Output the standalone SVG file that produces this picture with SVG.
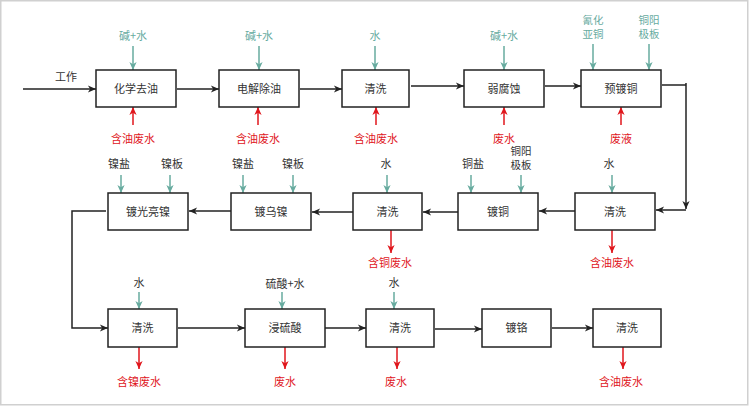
<svg xmlns="http://www.w3.org/2000/svg" width="750" height="406" viewBox="0 0 750 406">
<defs>
<marker id="ak" viewBox="0 0 10 10" refX="9.5" refY="5" markerWidth="9" markerHeight="9" markerUnits="userSpaceOnUse" orient="auto"><path d="M0.5,1 L9.5,5 L0.5,9 L3,5 z" fill="#222"/></marker>
<marker id="at" viewBox="0 0 10 10" refX="9.5" refY="5" markerWidth="9" markerHeight="9" markerUnits="userSpaceOnUse" orient="auto"><path d="M0.5,1 L9.5,5 L0.5,9 L3,5 z" fill="#67AB9F"/></marker>
<marker id="ar" viewBox="0 0 10 10" refX="9.5" refY="5" markerWidth="9" markerHeight="9" markerUnits="userSpaceOnUse" orient="auto"><path d="M0.5,1 L9.5,5 L0.5,9 L3,5 z" fill="#E0161C"/></marker>
</defs>
<style>
text{font-family:"Noto Sans CJK SC","Liberation Sans",sans-serif;font-size:11px;text-anchor:middle}
.two{font-size:10.5px}
.box{fill:#fff;stroke:#222;stroke-width:1.5}
.bl{fill:#333}
.tl{fill:#67AB9F}
.dl{fill:#333}
.rl{fill:#E0161C}
.ck{fill:none;stroke:#222;stroke-width:1.5;marker-end:url(#ak)}
.cn{fill:none;stroke:#222;stroke-width:1.5}
.ct{fill:none;stroke:#67AB9F;stroke-width:1.5;marker-end:url(#at)}
.cr{fill:none;stroke:#E0161C;stroke-width:1.5;marker-end:url(#ar)}
</style>
<rect x="0.75" y="0.75" width="747" height="404" fill="#fff" stroke="#d0d0d0" stroke-width="1.5"/>

<g id="connectors">
<line class="ck" x1="23" y1="89" x2="96" y2="89"/>
<line class="ck" x1="177" y1="89" x2="219" y2="89"/>
<line class="ck" x1="300" y1="89" x2="342" y2="89"/>
<line class="ck" x1="411" y1="86" x2="464" y2="86"/>
<line class="ck" x1="545" y1="86" x2="581" y2="86"/>
<line class="cn" x1="662" y1="85" x2="686" y2="85"/>
<line class="ck" x1="686" y1="83" x2="686" y2="209"/>
<line class="ck" x1="686" y1="210" x2="656" y2="210"/>
<line class="ck" x1="575" y1="211" x2="539" y2="211"/>
<line class="ck" x1="458" y1="212" x2="423" y2="212"/>
<line class="ck" x1="353" y1="212" x2="312" y2="212"/>
<line class="ck" x1="231" y1="211" x2="189" y2="211"/>
<polyline class="ck" points="106,211 72,211 72,328 108,328"/>
<line class="ck" x1="178" y1="328" x2="245" y2="328"/>
<line class="ck" x1="325" y1="328" x2="366" y2="328"/>
<line class="ck" x1="435" y1="329" x2="482" y2="329"/>
<line class="ck" x1="552" y1="328" x2="593" y2="328"/>
<line class="ct" x1="133" y1="46" x2="133" y2="70"/>
<line class="ct" x1="259" y1="46" x2="259" y2="70"/>
<line class="ct" x1="375" y1="46" x2="375" y2="70"/>
<line class="ct" x1="504" y1="46" x2="504" y2="70"/>
<line class="ct" x1="593" y1="44" x2="593" y2="70"/>
<line class="ct" x1="649" y1="44" x2="649" y2="70"/>
<line class="cr" x1="133" y1="125" x2="133" y2="107"/>
<line class="cr" x1="258" y1="125" x2="258" y2="107"/>
<line class="cr" x1="376" y1="125" x2="376" y2="107"/>
<line class="cr" x1="504" y1="125" x2="504" y2="107"/>
<line class="cr" x1="621" y1="125" x2="621" y2="107"/>
<line class="ct" x1="121" y1="175" x2="121" y2="193"/>
<line class="ct" x1="170" y1="175" x2="170" y2="193"/>
<line class="ct" x1="243" y1="175" x2="243" y2="193"/>
<line class="ct" x1="293" y1="175" x2="293" y2="193"/>
<line class="ct" x1="387" y1="175" x2="387" y2="193"/>
<line class="ct" x1="471" y1="175" x2="471" y2="193"/>
<line class="ct" x1="521" y1="175" x2="521" y2="193"/>
<line class="ct" x1="612" y1="175" x2="612" y2="193"/>
<line class="cr" x1="391" y1="230" x2="391" y2="253"/>
<line class="cr" x1="612" y1="230" x2="612" y2="253"/>
<line class="ct" x1="139" y1="292" x2="139" y2="309"/>
<line class="ct" x1="282" y1="292" x2="282" y2="309"/>
<line class="ct" x1="394" y1="292" x2="394" y2="309"/>
<line class="cr" x1="139" y1="347" x2="139" y2="369"/>
<line class="cr" x1="285" y1="347" x2="285" y2="369"/>
<line class="cr" x1="397" y1="347" x2="397" y2="369"/>
<line class="cr" x1="623" y1="347" x2="623" y2="369"/>
</g>

<g id="labels">
<text class="dl" x="66" y="81">工作</text>
<text class="tl" x="133" y="40">碱+水</text>
<text class="tl" x="259" y="40">碱+水</text>
<text class="tl" x="375" y="40">水</text>
<text class="tl" x="504" y="40">碱+水</text>
<text class="tl two" x="593" y="23.5">氰化<tspan x="593" dy="14">亚铜</tspan></text>
<text class="tl two" x="649" y="23.5">铜阳<tspan x="649" dy="14">极板</tspan></text>
<text class="rl" x="133" y="143">含油废水</text>
<text class="rl" x="258" y="143">含油废水</text>
<text class="rl" x="376" y="143">含油废水</text>
<text class="rl" x="504" y="143">废水</text>
<text class="rl" x="621" y="143">废液</text>

<text class="dl" x="119" y="168">镍盐</text>
<text class="dl" x="172" y="168">镍板</text>
<text class="dl" x="243" y="168">镍盐</text>
<text class="dl" x="293" y="168">镍板</text>
<text class="dl" x="386" y="168">水</text>
<text class="dl" x="473" y="168">铜盐</text>
<text class="dl two" x="521" y="155">铜阳<tspan x="521" dy="13.5">极板</tspan></text>
<text class="dl" x="609" y="168">水</text>
<text class="rl" x="390" y="267">含铜废水</text>
<text class="rl" x="612" y="267">含油废水</text>

<text class="dl" x="139" y="287">水</text>
<text class="dl" x="285" y="288">硫酸+水</text>
<text class="dl" x="394" y="287">水</text>
<text class="rl" x="139" y="386">含镍废水</text>
<text class="rl" x="285" y="386">废水</text>
<text class="rl" x="396" y="386">废水</text>
<text class="rl" x="621" y="386">含油废水</text>
</g>

<g id="n1"><rect class="box" x="96" y="70" width="80" height="37"/><text class="bl" x="136" y="92.5">化学去油</text></g>
<g id="n2"><rect class="box" x="219" y="70" width="80" height="37"/><text class="bl" x="259" y="92.5">电解除油</text></g>
<g id="n3"><rect class="box" x="342" y="70" width="67" height="37"/><text class="bl" x="375.5" y="92.5">清洗</text></g>
<g id="n4"><rect class="box" x="464" y="70" width="80" height="37"/><text class="bl" x="504" y="92.5">弱腐蚀</text></g>
<g id="n5"><rect class="box" x="581" y="70" width="80" height="37"/><text class="bl" x="621" y="92.5">预镀铜</text></g>

<g id="n6"><rect class="box" x="575" y="193" width="80" height="37"/><text class="bl" x="615" y="215.5">清洗</text></g>
<g id="n7"><rect class="box" x="458" y="193" width="80" height="37"/><text class="bl" x="498" y="215.5">镀铜</text></g>
<g id="n8"><rect class="box" x="353" y="193" width="69" height="37"/><text class="bl" x="387.5" y="215.5">清洗</text></g>
<g id="n9"><rect class="box" x="231" y="193" width="80" height="37"/><text class="bl" x="271" y="215.5">镀乌镍</text></g>
<g id="n10"><rect class="box" x="108" y="193" width="80" height="37"/><text class="bl" x="148" y="215.5">镀光亮镍</text></g>

<g id="n11"><rect class="box" x="108" y="309" width="69" height="38"/><text class="bl" x="142.5" y="332">清洗</text></g>
<g id="n12"><rect class="box" x="245" y="309" width="80" height="38"/><text class="bl" x="285" y="332">浸硫酸</text></g>
<g id="n13"><rect class="box" x="366" y="309" width="68" height="38"/><text class="bl" x="400" y="332">清洗</text></g>
<g id="n14"><rect class="box" x="482" y="309" width="69" height="38"/><text class="bl" x="516.5" y="332">镀铬</text></g>
<g id="n15"><rect class="box" x="593" y="309" width="68" height="38"/><text class="bl" x="627" y="332">清洗</text></g>
</svg>
